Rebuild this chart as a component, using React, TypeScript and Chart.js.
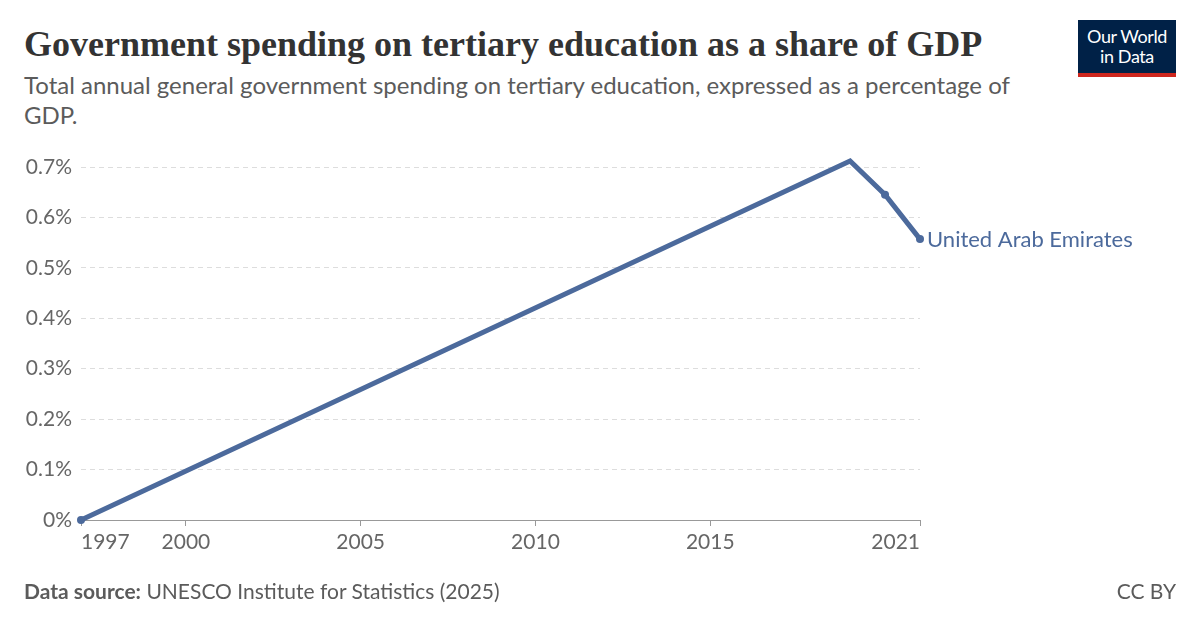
import React, { useEffect, useRef } from "react";
import { Chart, registerables } from "chart.js";

Chart.register(...registerables);

const years = [1997, 2019, 2020, 2021];
const values = [0, 0.712, 0.645, 0.557];
const xTickYears = [1997, 2000, 2005, 2010, 2015, 2021];
const yTickValues = [0, 0.1, 0.2, 0.3, 0.4, 0.5, 0.6, 0.7];
const seriesName = "United Arab Emirates";

const LINE_COLOR = "#4C6A9C";
const TEXT_GRAY = "#5b5b5b";
const TICK_GRAY = "#666666";

export default function App() {
  const canvasRef = useRef<HTMLCanvasElement | null>(null);

  useEffect(() => {
    document.body.style.margin = "0";
    const ctx = canvasRef.current!.getContext("2d")!;
    const labelPlugin = {
      id: "endLabel",
      afterDatasetsDraw(chart: any) {
        const meta = chart.getDatasetMeta(0);
        const pt = meta.data[meta.data.length - 1];
        const c = chart.ctx;
        c.save();
        c.font = "22px Lato";
        c.fillStyle = LINE_COLOR;
        c.textBaseline = "middle";
        c.textAlign = "left";
        c.fillText(seriesName, pt.x + 7, pt.y + 1);
        c.restore();
      },
      afterDraw(chart: any) {
        const xs = chart.scales.x;
        const c = chart.ctx;
        c.save();
        c.font = "21px Lato";
        c.fillStyle = TICK_GRAY;
        c.textBaseline = "top";
        xTickYears.forEach((yr, i) => {
          const px = xs.getPixelForValue(yr);
          c.textAlign = i === 0 ? "left" : i === xTickYears.length - 1 ? "right" : "center";
          c.fillText(String(yr), px, xs.top + 12);
        });
        c.restore();
      },
    };
    const chart = new Chart(ctx, {
      type: "line",
      data: {
        datasets: [
          {
            label: seriesName,
            data: years.map((y, i) => ({ x: y, y: values[i] })),
            borderColor: LINE_COLOR,
            backgroundColor: LINE_COLOR,
            borderWidth: 5,
            pointRadius: 4,
            pointHoverRadius: 4,
            pointBackgroundColor: LINE_COLOR,
            pointBorderWidth: 0,
            clip: false as any,
            tension: 0,
          },
        ],
      },
      options: {
        animation: false,
        responsive: false,
        events: [],
        layout: { padding: { top: 167, right: 280, bottom: 67, left: 0 } },
        plugins: { legend: { display: false }, tooltip: { enabled: false } },
        scales: {
          x: {
            type: "linear",
            min: 1997,
            max: 2021,
            afterBuildTicks: (scale: any) => {
              scale.ticks = xTickYears.map((v) => ({ value: v }));
            },
            afterFit: (scale: any) => {
              scale.height = 40;
            },
            ticks: {
              autoSkip: false,
              maxRotation: 0,
              color: "rgba(0,0,0,0)",
              font: { family: "Lato", size: 21 },
              callback: (v: any) => String(v),
            },
            grid: {
              drawOnChartArea: false,
              drawTicks: true,
              tickLength: 6,
              color: "#999",
            },
            border: { display: true, color: "#999", width: 1 },
          },
          y: {
            min: 0,
            max: 0.7,
            afterBuildTicks: (scale: any) => {
              scale.ticks = yTickValues.map((v) => ({ value: v }));
            },
            afterFit: (scale: any) => {
              scale.width = 81;
            },
            ticks: {
              padding: 9,
              color: TICK_GRAY,
              font: { family: "Lato", size: 21 },
              callback: (v: any) => (v === 0 ? "0%" : (Math.round(v * 10) / 10).toFixed(1) + "%"),
            },
            grid: {
              drawTicks: false,
              color: (c: any) => (c.tick && c.tick.value === 0 ? "rgba(0,0,0,0)" : "#dddddd"),
              lineWidth: 1,
            },
            border: { display: false, dash: [5, 4] },
          },
        },
      },
      plugins: [labelPlugin],
    } as any);
    return () => chart.destroy();
  }, []);

  return (
    <div style={{ position: "relative", width: 1200, height: 627, background: "#fff", overflow: "hidden", fontFamily: "Lato" }}>
      <div
        style={{
          position: "absolute",
          left: 24,
          top: 21,
          fontFamily: "'Liberation Serif', serif",
          fontWeight: 700,
          fontSize: 36,
          color: "#333",
          whiteSpace: "nowrap",
          lineHeight: "46px",
        }}
      >
        Government spending on tertiary education as a share of GDP
      </div>
      <div
        style={{
          position: "absolute",
          left: 24,
          top: 70,
          fontSize: 24,
          color: TEXT_GRAY,
          lineHeight: "30px",
          whiteSpace: "nowrap",
        }}
      >
        Total annual general government spending on tertiary education, expressed as a percentage of
        <br />
        GDP.
      </div>
      <div
        style={{
          position: "absolute",
          left: 1078,
          top: 20,
          width: 98,
          height: 57,
          background: "#002147",
          borderBottom: "4px solid #CE261E",
          boxSizing: "border-box",
          color: "#fff",
          fontSize: 18,
          lineHeight: "20px",
          textAlign: "center",
          paddingTop: 6,
          letterSpacing: -0.4,
        }}
      >
        Our World
        <br />
        in Data
      </div>
      <canvas ref={canvasRef} width={1200} height={627} style={{ position: "absolute", left: 0, top: 0 }} />
      <div style={{ position: "absolute", left: 24, top: 578, fontSize: 21, color: TEXT_GRAY, whiteSpace: "nowrap" }}>
        <b>Data source:</b> UNESCO Institute for Statistics (2025)
      </div>
      <div style={{ position: "absolute", right: 24, top: 578, fontSize: 21, color: TEXT_GRAY }}>CC BY</div>
    </div>
  );
}
